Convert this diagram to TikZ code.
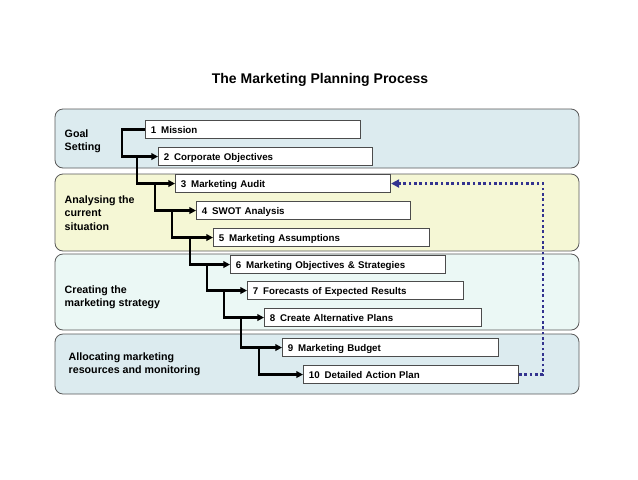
\documentclass[tikz,border=0pt]{standalone}
\usepackage{fontspec}
\setmainfont{Liberation Sans}
\usetikzlibrary{arrows.meta}
\definecolor{pblue}{HTML}{DCEBEF}
\definecolor{pyel}{HTML}{F5F7D5}
\definecolor{pgreen}{HTML}{EBF8F5}
\definecolor{dblue}{HTML}{33338F}
\begin{document}
\begin{tikzpicture}[x=0.75pt,y=-0.75pt,
  panel/.style={draw=gray!70!black,line width=0.6pt,rounded corners=6pt},
  stepbox/.style={draw=gray!60!black,fill=white,line width=0.8pt,minimum height=13.5pt,inner sep=0pt,anchor=north west,font=\bfseries\fontsize{7.3}{8}\selectfont,align=left,text depth=0pt},
  plabel/.style={anchor=west,align=left,font=\bfseries\fontsize{8}{10}\selectfont},
  stair/.style={line width=2pt,-{Triangle[length=5pt,width=5pt]}}]
\useasboundingbox (0,0) rectangle (638,479);
\node[font=\bfseries\fontsize{10.5}{12}\selectfont] (title) at (320,80) {The Marketing Planning Process};
\draw[panel,fill=pblue] (55,109) rectangle (579,168);
\draw[panel,fill=pyel] (55,174) rectangle (579,251);
\draw[panel,fill=pgreen] (55,254) rectangle (579,330);
\draw[panel,fill=pblue] (55,334) rectangle (579,394);
\node[plabel] (l1) at (60,141) {Goal\\Setting};
\node[plabel] (l2) at (60,213) {Analysing the\\current\\situation};
\node[plabel] (l3) at (60,297) {Creating the\\marketing strategy};
\node[plabel] (l4) at (64,364) {Allocating marketing\\resources and monitoring};
\foreach \i/\l/\r/\t/\txt in {1/145/360/120/1\enspace Mission,2/158/372/147/2\enspace Corporate Objectives,3/175/390/174/3\enspace Marketing Audit,4/196/410/201/4\enspace SWOT Analysis,5/213/429/228/5\enspace Marketing Assumptions,6/230/445/255/6\enspace Marketing Objectives \& Strategies,7/247/463/281/7\enspace Forecasts of Expected Results,8/264/481/308/8\enspace Create Alternative Plans,9/282/498/338/9\enspace Marketing Budget,10/303/518/365/10\enspace Detailed Action Plan}
  {\node[stepbox,minimum width={(\r-\l)*0.75pt},text width={(\r-\l)*0.75pt-8pt}] (b\i) at (\l,\t) {\txt};}
\draw[line width=2pt] (b1.west) -| (122,156);
\foreach \x/\a/\b in {122/1/2,137/2/3,155/3/4,172/4/5,190/5/6,207/6/7,224/7/8,241/8/9,259/9/10}
  \draw[stair] (\x,0 |- b\a.west) -- (\x,0 |- b\b.west) -- (b\b.west);
\coordinate (c1) at (543,0);
\draw[dblue,line width=2pt,dotted,-{Triangle[length=6pt,width=6pt]}] (b10.east) -- (c1 |- b10.east) -- (c1 |- b3.east) -- (b3.east);
\end{tikzpicture}
\end{document}
